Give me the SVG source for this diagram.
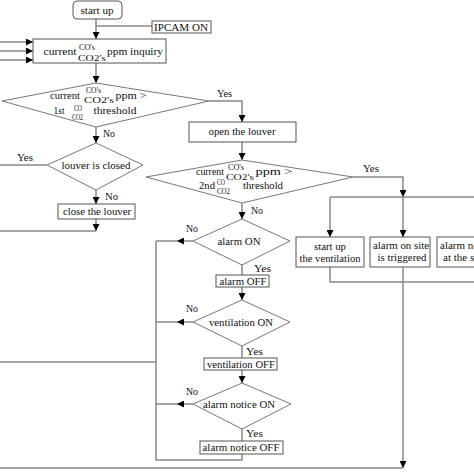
<svg xmlns="http://www.w3.org/2000/svg" width="474" height="474" viewBox="0 0 474 474" font-family="'Liberation Serif', 'Times New Roman', serif">
<defs>
<marker id="ah" markerUnits="userSpaceOnUse" markerWidth="7" markerHeight="7" viewBox="0 0 7 7" refX="7" refY="3.5" orient="auto"><path d="M0,0 L7,3.5 L0,7 z" fill="#000"/></marker>
</defs>
<style>
.box{fill:#fff;stroke:#555;stroke-width:1}
.dia{fill:#fff;stroke:#777;stroke-width:1}
.ln{fill:none;stroke:#888;stroke-width:1.5}
.ar{marker-end:url(#ah)}
text{font-family:'Liberation Serif','Times New Roman',serif;fill:#111}
.t{font-size:11px;text-anchor:middle}
.s{font-size:8.5px}
.u{font-size:7.5px}
.l{font-size:10px}
</style>
<rect width="474" height="474" fill="#fff"/>
<g id="connectors">
<path class="ln ar" d="M96,19 V39"/>
<path class="ln" d="M152,26 H96"/>
<path class="ln ar" d="M0,42 H33"/>
<path class="ln ar" d="M0,51 H33"/>
<path class="ln ar" d="M0,60 H33"/>
<path class="ln ar" d="M96,63 V83"/>
<path class="ln ar" d="M96,127 V143"/>
<path class="ln" d="M47,165 H0"/>
<path class="ln ar" d="M96,190 V204"/>
<path class="ln ar" d="M96,219 V231"/>
<path class="ln" d="M0,231 H96"/>
<path class="ln ar" d="M209,101 H242 V122"/>
<path class="ln ar" d="M242,142 V160"/>
<path class="ln ar" d="M353,177 H403 V197"/>
<path class="ln" d="M330,197 H474"/>
<path class="ln ar" d="M330,197 V237"/>
<path class="ln ar" d="M403,197 V237"/>
<path class="ln" d="M330,267 V282 H474"/>
<path class="ln ar" d="M403,267 V468"/>
<path class="ln" d="M0,468 H403"/>
<path class="ln ar" d="M242,203 V219"/>
<path class="ln ar" d="M193,241 H177"/><path class="ln" d="M177,241 H156"/>
<path class="ln ar" d="M193,322 H177"/><path class="ln" d="M177,322 H156"/>
<path class="ln ar" d="M193,404 H177"/><path class="ln" d="M177,404 H156"/>
<path class="ln" d="M156,241 V460 H242 V454"/>
<path class="ln" d="M0,362 H156"/>
<path class="ln" d="M242,265 V275"/>
<path class="ln ar" d="M242,287 V300"/>
<path class="ln" d="M242,346 V358"/>
<path class="ln ar" d="M242,370 V383"/>
<path class="ln" d="M242,429 V441"/>
<text class="l" x="217" y="97" textLength="15" lengthAdjust="spacingAndGlyphs">Yes</text>
<text class="l" x="103" y="137" textLength="12" lengthAdjust="spacingAndGlyphs">No</text>
<text class="l" x="17" y="161" textLength="16" lengthAdjust="spacingAndGlyphs">Yes</text>
<text class="l" x="105" y="200" textLength="13" lengthAdjust="spacingAndGlyphs">No</text>
<text class="l" x="363" y="172" textLength="16" lengthAdjust="spacingAndGlyphs">Yes</text>
<text class="l" x="251" y="214" textLength="12" lengthAdjust="spacingAndGlyphs">No</text>
<text class="l" x="186" y="232" textLength="12" lengthAdjust="spacingAndGlyphs">No</text>
<text class="l" x="254" y="272" textLength="17" lengthAdjust="spacingAndGlyphs">Yes</text>
<text class="l" x="186" y="312" textLength="12" lengthAdjust="spacingAndGlyphs">No</text>
<text class="l" x="246" y="355" textLength="17" lengthAdjust="spacingAndGlyphs">Yes</text>
<text class="l" x="186" y="395" textLength="12" lengthAdjust="spacingAndGlyphs">No</text>
<text class="l" x="246" y="437" textLength="17" lengthAdjust="spacingAndGlyphs">Yes</text>
</g>
<g id="start">
<rect class="box" x="73" y="1" width="49" height="18" rx="4"/>
<text class="t" x="97" y="14" textLength="33" lengthAdjust="spacingAndGlyphs">start up</text>
</g>
<g id="ipcam">
<rect class="box" x="152" y="21" width="59" height="12"/>
<text class="t" x="181" y="31" textLength="54" lengthAdjust="spacingAndGlyphs">IPCAM ON</text>
</g>
<g id="inquiry">
<rect class="box" x="33" y="39" width="133" height="24"/>
<text class="t" x="60" y="55" textLength="33" lengthAdjust="spacingAndGlyphs">current</text>
<text class="s" x="79" y="50" textLength="16" lengthAdjust="spacingAndGlyphs">CO's</text>
<text class="s" x="78" y="61" textLength="28" lengthAdjust="spacingAndGlyphs">CO2's</text>
<text class="t" x="135" y="55" textLength="56" lengthAdjust="spacingAndGlyphs">ppm inquiry</text>
</g>
<g id="threshold1">
<polygon class="dia" points="96,83 209,101 96,127 2,101"/>
<text class="t" x="65" y="99" textLength="30" lengthAdjust="spacingAndGlyphs">current</text>
<text class="s" x="86" y="93" textLength="15" lengthAdjust="spacingAndGlyphs">CO's</text>
<text class="s" x="84" y="103" textLength="30" lengthAdjust="spacingAndGlyphs">CO2's</text>
<text class="t" x="59" y="114" textLength="11" lengthAdjust="spacingAndGlyphs">1st</text>
<text class="u" x="74" y="110.5" textLength="8" lengthAdjust="spacingAndGlyphs">CO</text>
<text class="u" x="72" y="119.5" textLength="11" lengthAdjust="spacingAndGlyphs">CO2</text>
<text class="t" x="131" y="99" textLength="31" lengthAdjust="spacingAndGlyphs">ppm &gt;</text>
<text class="t" x="115" y="114" textLength="43" lengthAdjust="spacingAndGlyphs">threshold</text>
</g>
<g id="louverClosed">
<polygon class="dia" points="96,143 143,165 96,190 47,165"/>
<text class="t" x="96" y="169" textLength="69" lengthAdjust="spacingAndGlyphs">louver is closed</text>
</g>
<g id="closeLouver">
<rect class="box" x="58" y="204" width="77" height="15"/>
<text class="t" x="97" y="215" textLength="68" lengthAdjust="spacingAndGlyphs">close the louver</text>
</g>
<g id="openLouver">
<rect class="box" x="189" y="122" width="107" height="20"/>
<text class="t" x="242" y="135" textLength="67" lengthAdjust="spacingAndGlyphs">open the louver</text>
</g>
<g id="threshold2">
<polygon class="dia" points="242,160 353,177 242,203 146,177"/>
<text class="t" x="210" y="175" textLength="28" lengthAdjust="spacingAndGlyphs">current</text>
<text class="s" x="228" y="170" textLength="16" lengthAdjust="spacingAndGlyphs">CO's</text>
<text class="s" x="226" y="179.5" textLength="28" lengthAdjust="spacingAndGlyphs">CO2's</text>
<text class="t" x="274" y="175" textLength="37" lengthAdjust="spacingAndGlyphs">ppm &gt;</text>
<text class="t" x="207" y="189" textLength="16" lengthAdjust="spacingAndGlyphs">2nd</text>
<text class="u" x="217" y="184.5" textLength="8" lengthAdjust="spacingAndGlyphs">CO</text>
<text class="u" x="217" y="193.5" textLength="13" lengthAdjust="spacingAndGlyphs">CO2</text>
<text class="t" x="263" y="189" textLength="40" lengthAdjust="spacingAndGlyphs">threshold</text>
</g>
<g id="startVent">
<rect class="box" x="296" y="237" width="68" height="30"/>
<text class="t" x="330" y="250" textLength="32" lengthAdjust="spacingAndGlyphs">start up</text>
<text class="t" x="330" y="262" textLength="61" lengthAdjust="spacingAndGlyphs">the ventilation</text>
</g>
<g id="alarmSite">
<rect class="box" x="370" y="237" width="60" height="30"/>
<text class="t" x="401" y="249" textLength="56" lengthAdjust="spacingAndGlyphs">alarm on site</text>
<text class="t" x="402" y="261" textLength="49" lengthAdjust="spacingAndGlyphs">is triggered</text>
</g>
<g id="alarmNotice">
<rect class="box" x="437" y="237" width="68" height="30"/>
<text class="t" x="440" y="249" style="text-anchor:start">alarm notice</text>
<text class="t" x="443" y="261" style="text-anchor:start">at the site</text>
</g>
<g id="alarmOn">
<polygon class="dia" points="242,219 290,241 242,265 193,241"/>
<text class="t" x="239" y="245" textLength="43" lengthAdjust="spacingAndGlyphs">alarm ON</text>
</g>
<g id="alarmOff">
<rect class="box" x="216" y="275" width="53" height="12"/>
<text class="t" x="243" y="285" textLength="47" lengthAdjust="spacingAndGlyphs">alarm OFF</text>
</g>
<g id="ventOn">
<polygon class="dia" points="242,300 290,322 242,346 193,322"/>
<text class="t" x="241" y="326" textLength="64" lengthAdjust="spacingAndGlyphs">ventilation ON</text>
</g>
<g id="ventOff">
<rect class="box" x="204" y="358" width="73" height="12"/>
<text class="t" x="241" y="368" textLength="68" lengthAdjust="spacingAndGlyphs">ventilation OFF</text>
</g>
<g id="noticeOn">
<polygon class="dia" points="242,383 291,404 242,429 193,404"/>
<text class="t" x="239" y="408" textLength="72" lengthAdjust="spacingAndGlyphs">alarm notice ON</text>
</g>
<g id="noticeOff">
<rect class="box" x="200" y="441" width="83" height="13"/>
<text class="t" x="241" y="451" textLength="77" lengthAdjust="spacingAndGlyphs">alarm notice OFF</text>
</g>
</svg>
